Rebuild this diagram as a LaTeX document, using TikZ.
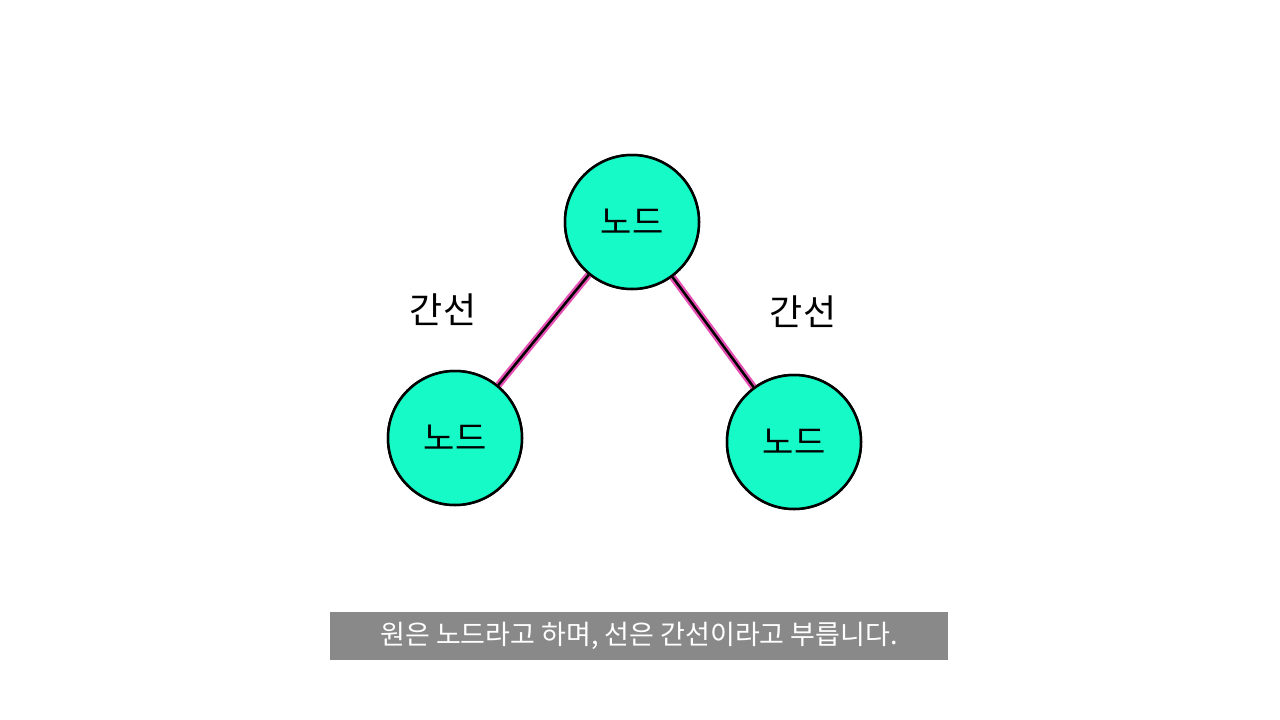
\documentclass[tikz,border=0pt]{standalone}
\usepackage{fontspec}
\newfontfamily\kr{Noto Sans CJK KR}
\begin{document}
\begin{tikzpicture}[x=1pt,y=-1pt,
  nd/.style={circle,draw=black,line width=2.5pt,fill={rgb,255:red,22;green,250;blue,200},minimum size=134pt,inner sep=0pt,font=\kr\fontsize{34}{36}\selectfont},
  lab/.style={font=\kr\fontsize{36}{38}\selectfont},
  pinkedge/.style={draw={rgb,255:red,230;green,80;blue,180},line width=7pt},
  blackedge/.style={draw=black,line width=2.5pt}]
\useasboundingbox (0,0) rectangle (1280,720);
\fill[white] (0,0) rectangle (1280,720);
\node[nd] (t) at (632,222) {노드};
\node[nd] (l) at (455,438) {노드};
\node[nd] (r) at (794,442) {노드};
\begin{scope}[on background layer/.try]
\end{scope}
\path[pinkedge] (t) -- (l);
\path[blackedge] (t) -- (l);
\path[pinkedge] (t) -- (r);
\path[blackedge] (t) -- (r);
\node[nd] at (632,222) {노드};
\node[nd] at (455,438) {노드};
\node[nd] at (794,442) {노드};
\node[lab] (a1) at (443,310) {간선};
\node[lab] (a2) at (803,312) {간선};
\fill[gray!85!black,opacity=0.8] (330,612) rectangle (948,660);
\node[font=\kr\fontsize{27}{29}\selectfont,text=white] (cap) at (639,636) {원은 노드라고 하며, 선은 간선이라고 부릅니다.};
\end{tikzpicture}
\end{document}
